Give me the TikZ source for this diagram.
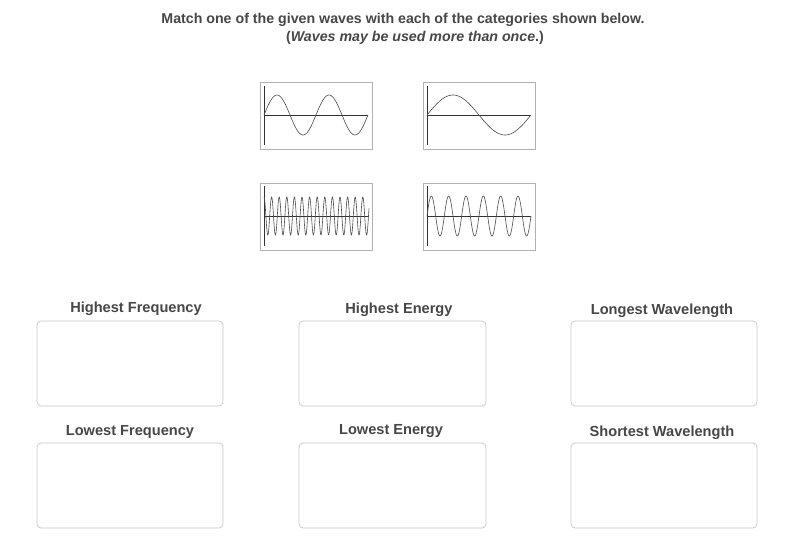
\documentclass[tikz,border=0pt]{standalone}
\usepackage{fontspec}
\setmainfont{Liberation Sans}
\begin{document}
\begin{tikzpicture}[x=1pt,y=-1pt,
  wavebox/.style={draw=black!30,line width=0.8pt},
  answerbox/.style={draw=black!22,rounded corners=4pt,line width=0.7pt},
  cat/.style={font=\bfseries\fontsize{14.6}{16}\selectfont,text=black!72},
  axis/.style={draw=black!80,line width=0.7pt},
  wave/.style={draw=black!70,line width=0.6pt}]
\useasboundingbox[fill=white] (0,0) rectangle (809,541);
\node[font=\bfseries\fontsize{14.2}{16}\selectfont,text=black!72] (t1) at (403,20) {Match one of the given waves with each of the categories shown below.};
\node[font=\bfseries\fontsize{14.2}{16}\selectfont,text=black!72] (t2) at (415,38) {(\textit{Waves may be used more than once}.)};
% wave boxes
\draw[wavebox] (260,82) rectangle (372,149);
\draw[axis] (264,86) -- (264,145); \draw[axis] (264,115) -- (368,115);
\draw[wave] plot[domain=264:368,samples=120] (\x,{115-20*sin((\x-264)*6.9231)});
\draw[wavebox] (423,82) rectangle (535,149);
\draw[axis] (427,86) -- (427,145); \draw[axis] (427,115) -- (531,115);
\draw[wave] plot[domain=427:531,samples=100] (\x,{115-20*sin((\x-427)*3.4615)});
\draw[wavebox] (260,183) rectangle (372,250);
\draw[axis] (264,186) -- (264,246); \draw[axis] (264,216) -- (369,216);
\draw[wave] plot[domain=264:369,samples=400] (\x,{216-19*cos((\x-264)*47.37)});
\draw[wavebox] (423,183) rectangle (535,250);
\draw[axis] (427,186) -- (427,246); \draw[axis] (427,216) -- (531,216);
\draw[wave] plot[domain=427:531,samples=250] (\x,{216-20*sin((\x-427)*20.77)});
% categories
\node[cat] (l1) at (136,309) {Highest Frequency};
\draw[answerbox] (37,321) rectangle (223,406);
\node[cat] (l2) at (399,310) {Highest Energy};
\draw[answerbox] (299,321) rectangle (486,406);
\node[cat] (l3) at (662,311) {Longest Wavelength};
\draw[answerbox] (571,321) rectangle (757,406);
\node[cat] (l4) at (130,432) {Lowest Frequency};
\draw[answerbox] (37,443) rectangle (223,528);
\node[cat] (l5) at (391,431) {Lowest Energy};
\draw[answerbox] (299,443) rectangle (486,528);
\node[cat] (l6) at (662,433) {Shortest Wavelength};
\draw[answerbox] (571,443) rectangle (757,528);
\end{tikzpicture}
\end{document}
